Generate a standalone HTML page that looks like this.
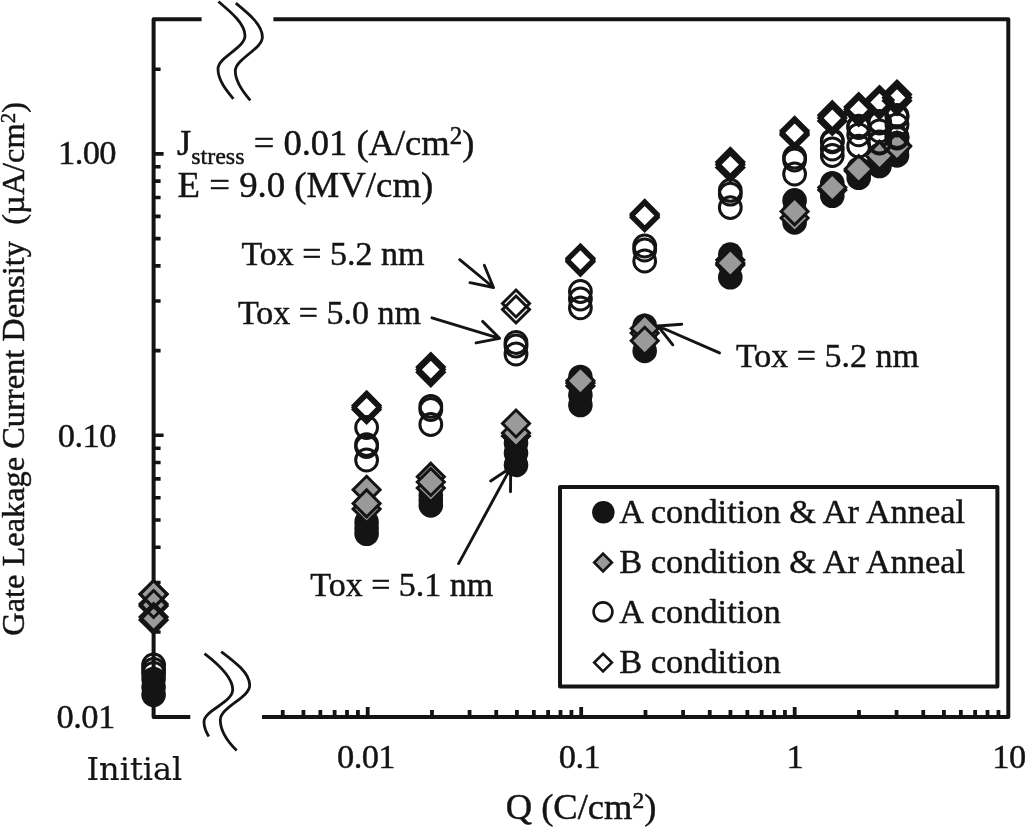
<!DOCTYPE html>
<html><head><meta charset="utf-8"><title>Gate Leakage Current Density vs Q</title>
<style>
html,body{margin:0;padding:0;background:#fff;}
body{width:1025px;height:827px;overflow:hidden;}
svg{display:block;}
text{font-family:'Liberation Serif', 'Times New Roman', serif;fill:#141414;stroke:#141414;stroke-width:0.45px;}
</style></head><body>
<svg width="1025" height="827" viewBox="0 0 1025 827">
<rect width="1025" height="827" fill="#fff"/>
<g stroke="#141414" stroke-width="4" fill="none" stroke-linecap="butt">
<path d="M201.6,19.2H153.6V717H190.3" stroke-linejoin="round"/>
<path d="M273.4,19.2H1008.3V717H262" stroke-linejoin="round"/>
</g>
<path d="M153.6,631.99H160.6M153.6,582.44H160.6M153.6,547.28H160.6M153.6,520.01H160.6M153.6,497.73H160.6M153.6,478.89H160.6M153.6,462.57H160.6M153.6,448.18H160.6M153.6,435.30H163.6M153.6,350.59H160.6M153.6,301.04H160.6M153.6,265.88H160.6M153.6,238.61H160.6M153.6,216.33H160.6M153.6,197.49H160.6M153.6,181.17H160.6M153.6,166.78H160.6M153.6,153.90H163.6M153.6,69.19H160.6" stroke="#141414" stroke-width="3.6" fill="none"/>
<path d="M282.74,717V710.0M303.43,717V710.0M320.34,717V710.0M334.63,717V710.0M347.01,717V710.0M357.93,717V710.0M367.70,717V707.0M431.97,717V710.0M469.57,717V710.0M496.24,717V710.0M516.93,717V710.0M533.84,717V710.0M548.13,717V710.0M560.51,717V710.0M571.43,717V710.0M581.20,717V707.0M645.47,717V710.0M683.07,717V710.0M709.74,717V710.0M730.43,717V710.0M747.34,717V710.0M761.63,717V710.0M774.01,717V710.0M784.93,717V710.0M794.70,717V707.0M858.97,717V710.0M896.57,717V710.0M923.24,717V710.0M943.93,717V710.0M960.84,717V710.0M975.13,717V710.0M987.51,717V710.0M998.43,717V710.0" stroke="#141414" stroke-width="3.8" fill="none"/>
<g fill="none" stroke="#141414" stroke-width="2.8" stroke-linecap="butt">
<path d="M218.4,1.5C232,13 245,24 245,35.8C245,48 218,57 218,69C218,80 226,90 233.4,98.8"/>
<path d="M235.8,3.2C249,14 262.4,25 262.4,37C262.4,49 235.3,59 235.3,71C235.3,82 243,92 250.3,100.3"/>
<path d="M204.5,653.7C218,664 232.7,677 232.7,689.6C232.7,703 204,710 204,722C204,728 206,732 208.8,736.4"/>
<path d="M221.2,651.6C235,662 249.7,673 249.7,685.3C249.7,698 220.3,707 220.3,720C220.3,732 228,742 236.7,750.6"/>
</g>
<circle cx="153.60" cy="679.00" r="12.3" fill="#141414"/>
<circle cx="153.60" cy="687.00" r="12.3" fill="#141414"/>
<circle cx="153.60" cy="694.80" r="12.3" fill="#141414"/>
<circle cx="366.60" cy="522.00" r="12.3" fill="#141414"/>
<circle cx="366.60" cy="528.00" r="12.3" fill="#141414"/>
<circle cx="366.60" cy="533.70" r="12.3" fill="#141414"/>
<circle cx="430.80" cy="495.00" r="12.3" fill="#141414"/>
<circle cx="430.80" cy="500.00" r="12.3" fill="#141414"/>
<circle cx="430.80" cy="505.40" r="12.3" fill="#141414"/>
<circle cx="516.00" cy="443.00" r="12.3" fill="#141414"/>
<circle cx="516.00" cy="453.00" r="12.3" fill="#141414"/>
<circle cx="516.00" cy="465.00" r="12.3" fill="#141414"/>
<circle cx="580.40" cy="377.00" r="12.3" fill="#141414"/>
<circle cx="580.40" cy="395.00" r="12.3" fill="#141414"/>
<circle cx="580.40" cy="405.00" r="12.3" fill="#141414"/>
<circle cx="644.70" cy="325.80" r="12.3" fill="#141414"/>
<circle cx="644.70" cy="338.00" r="12.3" fill="#141414"/>
<circle cx="644.70" cy="350.90" r="12.3" fill="#141414"/>
<circle cx="730.30" cy="254.60" r="12.3" fill="#141414"/>
<circle cx="730.30" cy="265.00" r="12.3" fill="#141414"/>
<circle cx="730.30" cy="277.30" r="12.3" fill="#141414"/>
<circle cx="794.60" cy="200.40" r="12.3" fill="#141414"/>
<circle cx="794.60" cy="211.00" r="12.3" fill="#141414"/>
<circle cx="794.60" cy="222.40" r="12.3" fill="#141414"/>
<circle cx="832.30" cy="183.30" r="12.3" fill="#141414"/>
<circle cx="832.30" cy="190.00" r="12.3" fill="#141414"/>
<circle cx="832.30" cy="195.70" r="12.3" fill="#141414"/>
<circle cx="858.70" cy="169.00" r="12.3" fill="#141414"/>
<circle cx="858.70" cy="173.00" r="12.3" fill="#141414"/>
<circle cx="858.70" cy="177.70" r="12.3" fill="#141414"/>
<circle cx="879.50" cy="155.00" r="12.3" fill="#141414"/>
<circle cx="879.50" cy="160.00" r="12.3" fill="#141414"/>
<circle cx="879.50" cy="166.00" r="12.3" fill="#141414"/>
<circle cx="897.00" cy="143.00" r="12.3" fill="#141414"/>
<circle cx="897.00" cy="149.00" r="12.3" fill="#141414"/>
<circle cx="897.00" cy="155.40" r="12.3" fill="#141414"/>
<path d="M153.60,592.50L167.10,606.00L153.60,619.50L140.10,606.00Z" fill="#9a9a9a" stroke="#141414" stroke-width="3.0" stroke-miterlimit="10"/>
<path d="M153.60,580.80L167.10,594.30L153.60,607.80L140.10,594.30Z" fill="#9a9a9a" stroke="#141414" stroke-width="3.0" stroke-miterlimit="10"/>
<path d="M153.60,606.50L167.10,620.00L153.60,633.50L140.10,620.00Z" fill="#9a9a9a" stroke="#141414" stroke-width="3.0" stroke-miterlimit="10"/>
<path d="M366.60,476.30L380.10,489.80L366.60,503.30L353.10,489.80Z" fill="#9a9a9a" stroke="#141414" stroke-width="3.0" stroke-miterlimit="10"/>
<path d="M366.60,495.50L380.10,509.00L366.60,522.50L353.10,509.00Z" fill="#9a9a9a" stroke="#141414" stroke-width="3.0" stroke-miterlimit="10"/>
<path d="M366.60,489.90L380.10,503.40L366.60,516.90L353.10,503.40Z" fill="#9a9a9a" stroke="#141414" stroke-width="3.0" stroke-miterlimit="10"/>
<path d="M430.80,474.50L444.30,488.00L430.80,501.50L417.30,488.00Z" fill="#9a9a9a" stroke="#141414" stroke-width="3.0" stroke-miterlimit="10"/>
<path d="M430.80,463.20L444.30,476.70L430.80,490.20L417.30,476.70Z" fill="#9a9a9a" stroke="#141414" stroke-width="3.0" stroke-miterlimit="10"/>
<path d="M430.80,468.50L444.30,482.00L430.80,495.50L417.30,482.00Z" fill="#9a9a9a" stroke="#141414" stroke-width="3.0" stroke-miterlimit="10"/>
<path d="M516.00,422.50L529.50,436.00L516.00,449.50L502.50,436.00Z" fill="#9a9a9a" stroke="#141414" stroke-width="3.0" stroke-miterlimit="10"/>
<path d="M516.00,419.50L529.50,433.00L516.00,446.50L502.50,433.00Z" fill="#9a9a9a" stroke="#141414" stroke-width="3.0" stroke-miterlimit="10"/>
<path d="M516.00,410.00L529.50,423.50L516.00,437.00L502.50,423.50Z" fill="#9a9a9a" stroke="#141414" stroke-width="3.0" stroke-miterlimit="10"/>
<path d="M580.40,372.50L593.90,386.00L580.40,399.50L566.90,386.00Z" fill="#9a9a9a" stroke="#141414" stroke-width="3.0" stroke-miterlimit="10"/>
<path d="M580.40,369.50L593.90,383.00L580.40,396.50L566.90,383.00Z" fill="#9a9a9a" stroke="#141414" stroke-width="3.0" stroke-miterlimit="10"/>
<path d="M580.40,367.20L593.90,380.70L580.40,394.20L566.90,380.70Z" fill="#9a9a9a" stroke="#141414" stroke-width="3.0" stroke-miterlimit="10"/>
<path d="M644.70,319.50L658.20,333.00L644.70,346.50L631.20,333.00Z" fill="#9a9a9a" stroke="#141414" stroke-width="3.0" stroke-miterlimit="10"/>
<path d="M644.70,315.00L658.20,328.50L644.70,342.00L631.20,328.50Z" fill="#9a9a9a" stroke="#141414" stroke-width="3.0" stroke-miterlimit="10"/>
<path d="M644.70,327.30L658.20,340.80L644.70,354.30L631.20,340.80Z" fill="#9a9a9a" stroke="#141414" stroke-width="3.0" stroke-miterlimit="10"/>
<path d="M730.30,251.50L743.80,265.00L730.30,278.50L716.80,265.00Z" fill="#9a9a9a" stroke="#141414" stroke-width="3.0" stroke-miterlimit="10"/>
<path d="M730.30,246.50L743.80,260.00L730.30,273.50L716.80,260.00Z" fill="#9a9a9a" stroke="#141414" stroke-width="3.0" stroke-miterlimit="10"/>
<path d="M730.30,249.50L743.80,263.00L730.30,276.50L716.80,263.00Z" fill="#9a9a9a" stroke="#141414" stroke-width="3.0" stroke-miterlimit="10"/>
<path d="M794.60,204.50L808.10,218.00L794.60,231.50L781.10,218.00Z" fill="#9a9a9a" stroke="#141414" stroke-width="3.0" stroke-miterlimit="10"/>
<path d="M794.60,197.90L808.10,211.40L794.60,224.90L781.10,211.40Z" fill="#9a9a9a" stroke="#141414" stroke-width="3.0" stroke-miterlimit="10"/>
<path d="M832.30,176.50L845.80,190.00L832.30,203.50L818.80,190.00Z" fill="#9a9a9a" stroke="#141414" stroke-width="3.0" stroke-miterlimit="10"/>
<path d="M832.30,174.00L845.80,187.50L832.30,201.00L818.80,187.50Z" fill="#9a9a9a" stroke="#141414" stroke-width="3.0" stroke-miterlimit="10"/>
<path d="M858.70,157.50L872.20,171.00L858.70,184.50L845.20,171.00Z" fill="#9a9a9a" stroke="#141414" stroke-width="3.0" stroke-miterlimit="10"/>
<path d="M858.70,155.50L872.20,169.00L858.70,182.50L845.20,169.00Z" fill="#9a9a9a" stroke="#141414" stroke-width="3.0" stroke-miterlimit="10"/>
<path d="M879.50,141.00L893.00,154.50L879.50,168.00L866.00,154.50Z" fill="#9a9a9a" stroke="#141414" stroke-width="3.0" stroke-miterlimit="10"/>
<path d="M879.50,142.00L893.00,155.50L879.50,169.00L866.00,155.50Z" fill="#9a9a9a" stroke="#141414" stroke-width="3.0" stroke-miterlimit="10"/>
<path d="M897.00,132.20L910.50,145.70L897.00,159.20L883.50,145.70Z" fill="#9a9a9a" stroke="#141414" stroke-width="3.0" stroke-miterlimit="10"/>
<path d="M897.00,133.00L910.50,146.50L897.00,160.00L883.50,146.50Z" fill="#9a9a9a" stroke="#141414" stroke-width="3.0" stroke-miterlimit="10"/>
<circle cx="153.60" cy="665.00" r="10.9" fill="none" stroke="#141414" stroke-width="3.0"/>
<circle cx="153.60" cy="669.50" r="10.9" fill="none" stroke="#141414" stroke-width="3.0"/>
<circle cx="153.60" cy="673.50" r="10.9" fill="none" stroke="#141414" stroke-width="3.0"/>
<circle cx="366.60" cy="427.50" r="10.9" fill="none" stroke="#141414" stroke-width="3.0"/>
<circle cx="366.60" cy="444.60" r="10.9" fill="none" stroke="#141414" stroke-width="3.0"/>
<circle cx="366.60" cy="446.60" r="10.9" fill="none" stroke="#141414" stroke-width="3.0"/>
<circle cx="366.60" cy="460.00" r="10.9" fill="none" stroke="#141414" stroke-width="3.0"/>
<circle cx="430.80" cy="406.30" r="10.9" fill="none" stroke="#141414" stroke-width="3.0"/>
<circle cx="430.80" cy="409.50" r="10.9" fill="none" stroke="#141414" stroke-width="3.0"/>
<circle cx="430.80" cy="424.50" r="10.9" fill="none" stroke="#141414" stroke-width="3.0"/>
<circle cx="516.00" cy="342.50" r="10.9" fill="none" stroke="#141414" stroke-width="3.0"/>
<circle cx="516.00" cy="346.00" r="10.9" fill="none" stroke="#141414" stroke-width="3.0"/>
<circle cx="516.00" cy="354.00" r="10.9" fill="none" stroke="#141414" stroke-width="3.0"/>
<circle cx="580.40" cy="291.50" r="10.9" fill="none" stroke="#141414" stroke-width="3.0"/>
<circle cx="580.40" cy="299.00" r="10.9" fill="none" stroke="#141414" stroke-width="3.0"/>
<circle cx="580.40" cy="307.80" r="10.9" fill="none" stroke="#141414" stroke-width="3.0"/>
<circle cx="644.70" cy="246.00" r="10.9" fill="none" stroke="#141414" stroke-width="3.0"/>
<circle cx="644.70" cy="250.00" r="10.9" fill="none" stroke="#141414" stroke-width="3.0"/>
<circle cx="644.70" cy="261.00" r="10.9" fill="none" stroke="#141414" stroke-width="3.0"/>
<circle cx="730.30" cy="190.40" r="10.9" fill="none" stroke="#141414" stroke-width="3.0"/>
<circle cx="730.30" cy="194.20" r="10.9" fill="none" stroke="#141414" stroke-width="3.0"/>
<circle cx="730.30" cy="207.60" r="10.9" fill="none" stroke="#141414" stroke-width="3.0"/>
<circle cx="794.60" cy="157.00" r="10.9" fill="none" stroke="#141414" stroke-width="3.0"/>
<circle cx="794.60" cy="160.00" r="10.9" fill="none" stroke="#141414" stroke-width="3.0"/>
<circle cx="794.60" cy="174.00" r="10.9" fill="none" stroke="#141414" stroke-width="3.0"/>
<circle cx="832.30" cy="140.60" r="10.9" fill="none" stroke="#141414" stroke-width="3.0"/>
<circle cx="832.30" cy="141.80" r="10.9" fill="none" stroke="#141414" stroke-width="3.0"/>
<circle cx="832.30" cy="149.00" r="10.9" fill="none" stroke="#141414" stroke-width="3.0"/>
<circle cx="832.30" cy="155.50" r="10.9" fill="none" stroke="#141414" stroke-width="3.0"/>
<circle cx="858.70" cy="126.20" r="10.9" fill="none" stroke="#141414" stroke-width="3.0"/>
<circle cx="858.70" cy="127.60" r="10.9" fill="none" stroke="#141414" stroke-width="3.0"/>
<circle cx="858.70" cy="134.80" r="10.9" fill="none" stroke="#141414" stroke-width="3.0"/>
<circle cx="858.70" cy="146.20" r="10.9" fill="none" stroke="#141414" stroke-width="3.0"/>
<circle cx="879.50" cy="121.50" r="10.9" fill="none" stroke="#141414" stroke-width="3.0"/>
<circle cx="879.50" cy="123.00" r="10.9" fill="none" stroke="#141414" stroke-width="3.0"/>
<circle cx="879.50" cy="131.00" r="10.9" fill="none" stroke="#141414" stroke-width="3.0"/>
<circle cx="879.50" cy="142.00" r="10.9" fill="none" stroke="#141414" stroke-width="3.0"/>
<circle cx="879.50" cy="143.00" r="10.9" fill="none" stroke="#141414" stroke-width="3.0"/>
<circle cx="897.00" cy="115.40" r="10.9" fill="none" stroke="#141414" stroke-width="3.0"/>
<circle cx="897.00" cy="117.00" r="10.9" fill="none" stroke="#141414" stroke-width="3.0"/>
<circle cx="897.00" cy="125.00" r="10.9" fill="none" stroke="#141414" stroke-width="3.0"/>
<circle cx="897.00" cy="136.70" r="10.9" fill="none" stroke="#141414" stroke-width="3.0"/>
<circle cx="897.00" cy="138.00" r="10.9" fill="none" stroke="#141414" stroke-width="3.0"/>
<path d="M153.60,580.50L167.10,594.00L153.60,607.50L140.10,594.00Z" fill="none" stroke="#141414" stroke-width="3.0" stroke-miterlimit="10"/>
<path d="M153.60,590.50L167.10,604.00L153.60,617.50L140.10,604.00Z" fill="none" stroke="#141414" stroke-width="3.0" stroke-miterlimit="10"/>
<path d="M153.60,603.50L167.10,617.00L153.60,630.50L140.10,617.00Z" fill="none" stroke="#141414" stroke-width="3.0" stroke-miterlimit="10"/>
<path d="M366.60,391.90L380.10,405.40L366.60,418.90L353.10,405.40Z" fill="none" stroke="#141414" stroke-width="3.0" stroke-miterlimit="10"/>
<path d="M366.60,393.90L380.10,407.40L366.60,420.90L353.10,407.40Z" fill="none" stroke="#141414" stroke-width="3.0" stroke-miterlimit="10"/>
<path d="M366.60,395.90L380.10,409.40L366.60,422.90L353.10,409.40Z" fill="none" stroke="#141414" stroke-width="3.0" stroke-miterlimit="10"/>
<path d="M430.80,353.50L444.30,367.00L430.80,380.50L417.30,367.00Z" fill="none" stroke="#141414" stroke-width="3.0" stroke-miterlimit="10"/>
<path d="M430.80,356.00L444.30,369.50L430.80,383.00L417.30,369.50Z" fill="none" stroke="#141414" stroke-width="3.0" stroke-miterlimit="10"/>
<path d="M430.80,358.80L444.30,372.30L430.80,385.80L417.30,372.30Z" fill="none" stroke="#141414" stroke-width="3.0" stroke-miterlimit="10"/>
<path d="M516.00,290.00L529.50,303.50L516.00,317.00L502.50,303.50Z" fill="none" stroke="#141414" stroke-width="3.0" stroke-miterlimit="10"/>
<path d="M516.00,296.00L529.50,309.50L516.00,323.00L502.50,309.50Z" fill="none" stroke="#141414" stroke-width="3.0" stroke-miterlimit="10"/>
<path d="M580.40,244.80L593.90,258.30L580.40,271.80L566.90,258.30Z" fill="none" stroke="#141414" stroke-width="3.0" stroke-miterlimit="10"/>
<path d="M580.40,246.50L593.90,260.00L580.40,273.50L566.90,260.00Z" fill="none" stroke="#141414" stroke-width="3.0" stroke-miterlimit="10"/>
<path d="M580.40,248.30L593.90,261.80L580.40,275.30L566.90,261.80Z" fill="none" stroke="#141414" stroke-width="3.0" stroke-miterlimit="10"/>
<path d="M644.70,200.40L658.20,213.90L644.70,227.40L631.20,213.90Z" fill="none" stroke="#141414" stroke-width="3.0" stroke-miterlimit="10"/>
<path d="M644.70,202.20L658.20,215.70L644.70,229.20L631.20,215.70Z" fill="none" stroke="#141414" stroke-width="3.0" stroke-miterlimit="10"/>
<path d="M644.70,204.00L658.20,217.50L644.70,231.00L631.20,217.50Z" fill="none" stroke="#141414" stroke-width="3.0" stroke-miterlimit="10"/>
<path d="M730.30,148.40L743.80,161.90L730.30,175.40L716.80,161.90Z" fill="none" stroke="#141414" stroke-width="3.0" stroke-miterlimit="10"/>
<path d="M730.30,151.10L743.80,164.60L730.30,178.10L716.80,164.60Z" fill="none" stroke="#141414" stroke-width="3.0" stroke-miterlimit="10"/>
<path d="M730.30,153.90L743.80,167.40L730.30,180.90L716.80,167.40Z" fill="none" stroke="#141414" stroke-width="3.0" stroke-miterlimit="10"/>
<path d="M794.60,117.30L808.10,130.80L794.60,144.30L781.10,130.80Z" fill="none" stroke="#141414" stroke-width="3.0" stroke-miterlimit="10"/>
<path d="M794.60,119.50L808.10,133.00L794.60,146.50L781.10,133.00Z" fill="none" stroke="#141414" stroke-width="3.0" stroke-miterlimit="10"/>
<path d="M794.60,121.50L808.10,135.00L794.60,148.50L781.10,135.00Z" fill="none" stroke="#141414" stroke-width="3.0" stroke-miterlimit="10"/>
<path d="M832.30,101.70L845.80,115.20L832.30,128.70L818.80,115.20Z" fill="none" stroke="#141414" stroke-width="3.0" stroke-miterlimit="10"/>
<path d="M832.30,104.50L845.80,118.00L832.30,131.50L818.80,118.00Z" fill="none" stroke="#141414" stroke-width="3.0" stroke-miterlimit="10"/>
<path d="M832.30,107.50L845.80,121.00L832.30,134.50L818.80,121.00Z" fill="none" stroke="#141414" stroke-width="3.0" stroke-miterlimit="10"/>
<path d="M858.70,93.50L872.20,107.00L858.70,120.50L845.20,107.00Z" fill="none" stroke="#141414" stroke-width="3.0" stroke-miterlimit="10"/>
<path d="M858.70,96.00L872.20,109.50L858.70,123.00L845.20,109.50Z" fill="none" stroke="#141414" stroke-width="3.0" stroke-miterlimit="10"/>
<path d="M858.70,98.50L872.20,112.00L858.70,125.50L845.20,112.00Z" fill="none" stroke="#141414" stroke-width="3.0" stroke-miterlimit="10"/>
<path d="M879.50,86.50L893.00,100.00L879.50,113.50L866.00,100.00Z" fill="none" stroke="#141414" stroke-width="3.0" stroke-miterlimit="10"/>
<path d="M879.50,88.90L893.00,102.40L879.50,115.90L866.00,102.40Z" fill="none" stroke="#141414" stroke-width="3.0" stroke-miterlimit="10"/>
<path d="M879.50,91.30L893.00,104.80L879.50,118.30L866.00,104.80Z" fill="none" stroke="#141414" stroke-width="3.0" stroke-miterlimit="10"/>
<path d="M897.00,81.10L910.50,94.60L897.00,108.10L883.50,94.60Z" fill="none" stroke="#141414" stroke-width="3.0" stroke-miterlimit="10"/>
<path d="M897.00,84.20L910.50,97.70L897.00,111.20L883.50,97.70Z" fill="none" stroke="#141414" stroke-width="3.0" stroke-miterlimit="10"/>
<path d="M897.00,87.30L910.50,100.80L897.00,114.30L883.50,100.80Z" fill="none" stroke="#141414" stroke-width="3.0" stroke-miterlimit="10"/>
<path d="M459.7,259.7L493.5,287.5M484.3,265.3L493.5,287.5L470.0,282.7" fill="none" stroke="#141414" stroke-width="2.9" stroke-linecap="round" stroke-linejoin="round"/>
<path d="M432.0,317.8L499.6,338.3M482.6,321.4L499.6,338.3L476.1,342.9" fill="none" stroke="#141414" stroke-width="2.9" stroke-linecap="round" stroke-linejoin="round"/>
<path d="M719.5,352.9L657.9,326.0M672.8,344.8L657.9,326.0L681.8,324.2" fill="none" stroke="#141414" stroke-width="2.9" stroke-linecap="round" stroke-linejoin="round"/>
<path d="M458.6,563.6L510.7,467.8M490.7,481.0L510.7,467.8L510.5,491.8" fill="none" stroke="#141414" stroke-width="2.9" stroke-linecap="round" stroke-linejoin="round"/>
<rect x="560" y="487" width="437.4" height="199.6" fill="#fff" stroke="#141414" stroke-width="4" stroke-linejoin="round"/>
<circle cx="603.35" cy="512.2" r="11.25" fill="#141414"/>
<path d="M603.05,553.65L611.9,562.5L603.05,571.35L594.1999999999999,562.5Z" fill="#9a9a9a" stroke="#141414" stroke-width="2.6" stroke-linejoin="miter"/>
<circle cx="603.0" cy="611.8" r="9.4" fill="none" stroke="#141414" stroke-width="2.65"/>
<path d="M603.05,653.75L611.9,662.6L603.05,671.45L594.1999999999999,662.6Z" fill="#fff" stroke="#141414" stroke-width="2.6" stroke-linejoin="miter"/>
<text x="619.2" y="523.2" font-size="34.4" text-anchor="start" >A condition &amp; Ar Anneal</text>
<text x="619.2" y="573.0" font-size="34.4" text-anchor="start" >B condition &amp; Ar Anneal</text>
<text x="619.2" y="623.3" font-size="34.4" text-anchor="start" >A condition</text>
<text x="619.2" y="673.2" font-size="34.4" text-anchor="start" >B condition</text>
<text x="116" y="164.4" font-size="34.5" text-anchor="end" letter-spacing="-0.6">1.00</text>
<text x="115.8" y="446.5" font-size="34.5" text-anchor="end" letter-spacing="-0.6">0.10</text>
<text x="114.6" y="728.2" font-size="34.5" text-anchor="end" letter-spacing="-0.6">0.01</text>
<text x="134.4" y="780.0" font-size="32" text-anchor="middle" style="font-family:'DejaVu Serif',serif;stroke-width:0.15px">Initial</text>
<text x="366.0" y="768.2" font-size="34.5" text-anchor="middle" letter-spacing="-0.6">0.01</text>
<text x="579.5" y="768.2" font-size="34.5" text-anchor="middle" letter-spacing="-0.6">0.1</text>
<text x="795.2" y="768.2" font-size="34.5" text-anchor="middle" >1</text>
<text x="1009" y="768.2" font-size="34.5" text-anchor="middle" letter-spacing="-0.6">10</text>
<text x="581" y="819.3" font-size="36.5" text-anchor="middle" >Q (C/cm<tspan font-size="23.5" dy="-11">2</tspan><tspan dy="11">)</tspan></text>
<text transform="translate(24.3,368.9) rotate(-90)" font-size="32.4" text-anchor="middle">Gate Leakage Current Density&#160; (µA/cm<tspan font-size="21" dy="-9.8">2</tspan><tspan dy="9.8">)</tspan></text>
<text x="177" y="154.7" font-size="36.5">J<tspan font-size="24" dy="9">stress</tspan><tspan dy="-9"> = 0.01 (A/cm</tspan><tspan font-size="25" dy="-10.5">2</tspan><tspan dy="10.5">)</tspan></text>
<text x="177.5" y="197.3" font-size="36.8" text-anchor="start" >E = 9.0 (MV/cm)</text>
<text x="241.4" y="265.1" font-size="34" text-anchor="start" >Tox = 5.2 nm</text>
<text x="237.9" y="323.6" font-size="34" text-anchor="start" >Tox = 5.0 nm</text>
<text x="735.9" y="366.5" font-size="34" text-anchor="start" >Tox = 5.2 nm</text>
<text x="310.3" y="596.3" font-size="34" text-anchor="start" >Tox = 5.1 nm</text>
</svg>
</body></html>
